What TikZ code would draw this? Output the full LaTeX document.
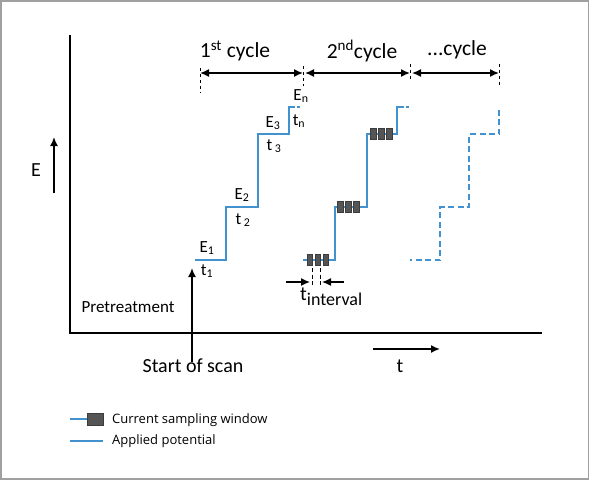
\documentclass[tikz,border=0pt]{standalone}
\usepackage{fontspec}
\setmainfont{Carlito}
\newfontfamily\legfont{Open Sans}
\usetikzlibrary{arrows.meta}
\definecolor{potblue}{RGB}{66,146,208}
\definecolor{wingray}{RGB}{85,85,85}
\definecolor{framegray}{RGB}{160,160,160}
\tikzset{
  axisline/.style={line width=2.6pt, black},
  potline/.style={line width=1.8pt, potblue},
  potdash/.style={line width=1.8pt, potblue, dash pattern=on 6pt off 3.5pt},
  potdot/.style={line width=1.8pt, potblue, dash pattern=on 3pt off 1.5pt},
  cycarrow/.style={line width=1.5pt, black, {Latex[length=9pt,width=8pt]}-{Latex[length=9pt,width=8pt]}},
  onearrow/.style={line width=1.6pt, black, -{Latex[length=9pt,width=8pt]}},
  tick/.style={line width=1pt, black, dash pattern=on 3pt off 3pt},
  win/.style={fill=wingray, draw=wingray!70!black, line width=0.4pt, minimum width=5.5pt, minimum height=11pt, inner sep=0pt},
  lbl/.style={font=\fontsize{17}{20}\selectfont, inner sep=0pt},
  big/.style={font=\fontsize{20}{24}\selectfont, inner sep=0pt},
  cyc/.style={font=\fontsize{21.5}{24}\selectfont, inner sep=0pt},
  leg/.style={font=\legfont\fontsize{13}{15}\selectfont, inner sep=0pt, anchor=west}
}
\begin{document}
\begin{tikzpicture}[x=1pt,y=-1pt]
\useasboundingbox (0,0) rectangle (590,483);
\draw[framegray, line width=1.5pt] (0.75,0.75) rectangle (588.5,479);
% axes
\draw[axisline] (70,35) -- (70,333) -- (542,333);
% E arrow
\coordinate (ea) at (54,193); \coordinate (eb) at (54,137);
\draw[onearrow] (ea) -- (eb);
\node[big] (E) at (36,170) {E};
% t arrow
\coordinate (ta) at (373,349); \coordinate (tb) at (440,349);
\draw[onearrow] (ta) -- (tb);
\node[big] (t) at (400,366) {t};
% start of scan
\coordinate (sa) at (192,362); \coordinate (sb) at (192,268);
\draw[onearrow] (sa) -- (sb);
\node[big] (start) at (193,366) {Start of scan};
\node[lbl] (pre) at (128,307) {Pretreatment};
% stair 1
\draw[potline] (195,260) -- (226,260) -- (226,207) -- (258,207) -- (258,134) -- (289,134) -- (289,107) -- (292,107);
\draw[potdot] (292,107) -- (300,107);
\node[lbl] (E1) at (207,248) {E\textsubscript{1}};
\node[lbl] (t1) at (207,271) {t\textsubscript{1}};
\node[lbl] (E2) at (242,195) {E\textsubscript{2}};
\node[lbl] (t2) at (243,220) {t\textsubscript{ 2}};
\node[lbl] (E3) at (273,123) {E\textsubscript{3}};
\node[lbl] (t3) at (274,146) {t\textsubscript{ 3}};
\node[lbl] (En) at (301,96) {E\textsubscript{n}};
\node[lbl] (tn) at (299,121) {t\textsubscript{n}};
% stair 2
\draw[potline] (303,260) -- (335,260) -- (335,207) -- (367,207) -- (367,134) -- (397,134) -- (397,107) -- (401,107);
\draw[potdot] (401,107) -- (410,107);
\foreach \i/\x/\y in {a/309.5/260, b/317.5/260, c/325.5/260, d/340/207, e/348/207, f/356/207, g/373/134, h/381/134, k/389/134}
  \node[win] (w\i) at (\x,\y) {};
% interval marks
\coordinate (ia) at (312,268); \coordinate (ib) at (312,286);
\coordinate (ic) at (320,268); \coordinate (id) at (320,286);
\draw[tick, dash pattern=on 4pt off 2.5pt] (ia) -- (ib);
\draw[tick, dash pattern=on 4pt off 2.5pt] (ic) -- (id);
\coordinate (la) at (286,282); \coordinate (lb) at (310,282);
\coordinate (ra) at (344,282); \coordinate (rb) at (322,282);
\draw[onearrow, line width=1.3pt] (la) -- (lb);
\draw[onearrow, line width=1.3pt] (ra) -- (rb);
\node[big, anchor=west] (tint) at (300,297) {t\textsubscript{\fontsize{18}{20}\selectfont interval}};
% stair 3
\draw[potdash, dash phase=4pt] (410,260) -- (440,260) -- (440,207) -- (469,207) -- (469,134) -- (499,134) -- (499,106);
% cycles
\coordinate (c0) at (200,73); \coordinate (c1) at (303,73);
\coordinate (c2) at (410,73); \coordinate (c3) at (499,73);
\draw[cycarrow] (c0) -- (c1);
\draw[cycarrow] ([xshift=2pt]c1) -- (c2);
\draw[cycarrow] ([xshift=2pt]c2) -- (c3);
\draw[tick] (200,68) -- (200,93);
\draw[tick] (303,66) -- (303,86);
\draw[tick] (410,64) -- (410,82);
\draw[tick] (499,64) -- (499,86);
\node[cyc] (cy1) at (235,51) {1\textsuperscript{st} cycle};
\node[cyc] (cy2) at (362,51) {2\textsuperscript{nd}cycle};
\node[cyc] (cy3) at (457,50) {...cycle};
% legend
\coordinate (l1a) at (70,419); \coordinate (l1b) at (88,419);
\draw[potline] (l1a) -- (l1b);
\node[fill=wingray, draw=wingray!70!black, line width=0.4pt, minimum width=16pt, minimum height=12pt, inner sep=0pt] (lw) at (95,419) {};
\node[leg] (leg1) at (112,420) {Current sampling window};
\coordinate (l2a) at (70,441); \coordinate (l2b) at (103,441);
\draw[potline] (l2a) -- (l2b);
\node[leg] (leg2) at (112,441) {Applied potential};
\end{tikzpicture}
\end{document}
